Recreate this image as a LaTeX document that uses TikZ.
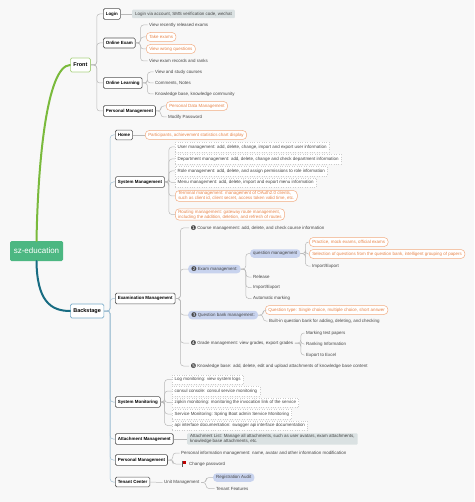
\documentclass[tikz,border=0pt]{standalone}
\usepackage{fontspec}
\setmainfont{Liberation Sans}
\newfontfamily\dingfont{DejaVu Sans}
\usepackage{xcolor}
\usetikzlibrary{positioning,calc}

\definecolor{bgcol}{RGB}{248,248,248}
\definecolor{rootgreen}{RGB}{76,183,130}
\definecolor{frontgreen}{RGB}{122,186,60}
\definecolor{frontedge}{RGB}{170,210,130}
\definecolor{backteal}{RGB}{24,108,130}
\definecolor{backedge}{RGB}{120,170,200}
\definecolor{spineblue}{RGB}{160,192,212}
\definecolor{boxline}{RGB}{85,85,85}
\definecolor{leaftext}{RGB}{70,70,70}
\definecolor{hottext}{RGB}{232,132,72}
\definecolor{hotedge}{RGB}{242,172,130}
\definecolor{tagfill}{RGB}{218,225,226}
\definecolor{pickfill}{RGB}{200,211,238}
\definecolor{linkgray}{RGB}{185,185,185}

\newcommand\bulnum[1]{\raisebox{-0.7pt}{\dingfont\fontsize{6.5}{5}\selectfont #1}}

\begin{document}
\begin{tikzpicture}[x=1pt, y=-1pt,
        root/.style={rectangle, fill=rootgreen, text=white, font=\fontsize{8}{9}\selectfont, minimum width=53pt, minimum height=20pt, rounded corners=1.5pt},
        main/.style={rectangle, draw, fill=white, line width=0.7pt, font=\bfseries\fontsize{5.5}{6}\selectfont, inner xsep=3pt, minimum height=14pt, rounded corners=1.5pt, anchor=west},
        topic/.style={rectangle, draw=boxline, fill=white, line width=0.6pt, font=\bfseries\fontsize{4.45}{5}\selectfont, inner xsep=2.5pt, minimum height=9.5pt, rounded corners=1.5pt, anchor=west},
        leaf/.style={font=\fontsize{4.45}{5.2}\selectfont, text=leaftext, inner xsep=1.5pt, inner ysep=1pt, anchor=west},
        hot/.style={leaf, draw=hotedge, fill=white, text=hottext, line width=0.5pt, inner xsep=3pt, minimum height=9pt, rounded corners=4pt, align=left},
        note/.style={leaf, draw=gray!40, dotted, fill=white, inner xsep=2.5pt, minimum height=9.5pt},
        tag/.style={leaf, fill=tagfill, inner xsep=3pt, minimum height=8.5pt, rounded corners=1pt, align=left},
        pick/.style={leaf, fill=pickfill, inner xsep=3pt, minimum height=8.5pt, rounded corners=3.5pt},
        trunk/.style={draw, line width=2pt, line cap=round},
        branch/.style={draw, linkgray, line width=0.5pt, rounded corners=3pt}]
    \fill [bgcol] (0,0) rectangle (474,502);
    \useasboundingbox (0,0) rectangle (474,502);

    % centre
    \node [root] (root) at (36.5,251) {sz-education};
    \node [main, draw=frontedge] (front) at (70,65) {Front};
    \node [main, draw=backedge] (back) at (70,311) {Backstage};
    \path [trunk, frontgreen] (root.north) .. controls (38,160) and (47,66) .. (front.west);
    \path [trunk, backteal] (root.south) .. controls (37,300) and (50,311) .. (back.west);

    % front
    \node [topic] (login) at (103,14) {Login};
    \node [topic] (oexam) at (103,43) {Online Exam};
    \node [topic] (olearn) at (103,83) {Online Learning};
    \node [topic] (fpm) at (103,111) {Personal Management};
    \foreach \c in {login,oexam,olearn,fpm}
        \path [branch] (front.east) -- ++(6pt,0) |- (\c.west);

    \node [tag] (login1) at (132,14) {Login via account, SMS verification code, wechat};
    \path [branch] (login.east) -- (login1.west);

    \node [leaf] (oe1) at (147.5,25) {View recently released exams};
    \node [hot] (oe2) at (146,37) {Take exams};
    \node [hot] (oe3) at (146,49) {View wrong questions};
    \node [leaf] (oe4) at (147.5,61) {View exam records and ranks};
    \foreach \c in {oe1,oe2,oe3,oe4}
        \path [branch] (oexam.east) -- ++(5pt,0) |- (\c.west);

    \node [leaf] (ol1) at (153.5,72) {View and study courses};
    \node [leaf] (ol2) at (153.5,83) {Comments, Notes};
    \node [leaf] (ol3) at (153.5,94) {Knowledge base, knowledge community};
    \foreach \c in {ol1,ol2,ol3}
        \path [branch] (olearn.east) -- ++(5pt,0) |- (\c.west);

    \node [hot] (fpm1) at (166,106) {Personal Data Management};
    \node [leaf] (fpm2) at (166.5,117) {Modify Password};
    \foreach \c in {fpm1,fpm2}
        \path [branch] (fpm.east) -- ++(5pt,0) |- (\c.west);

    % backstage
    \node [topic] (home) at (115,135) {Home};
    \node [topic] (sysm) at (115,182) {System Management};
    \node [topic] (exm) at (115,298.5) {Examination Management};
    \node [topic] (smon) at (115,402) {System Monitoring};
    \node [topic] (att) at (115,439) {Attachment Management};
    \node [topic] (bpm) at (115,460) {Personal Management};
    \node [topic] (tc) at (115,482) {Tenant Center};
    \foreach \c in {home,sysm,exm,smon,att,bpm,tc}
        \path [branch, spineblue] (back.east) -- ++(6pt,0) |- (\c.west);

    \node [hot] (home1) at (145,135) {Participants, achievement statistics chart display};
    \path [branch] (home.east) -- (home1.west);

    \node [note] (sm1) at (175,147) {User management: add, delete, change, import and export user information};
    \node [note] (sm2) at (175,159) {Department management: add, delete, change and check department information};
    \node [note] (sm3) at (175,171) {Role management: add, delete, and assign permissions to role information};
    \node [note] (sm4) at (175,182.5) {Menu management: add, delete, import and export menu information};
    \node [hot] (sm5) at (175,196) {Terminal management: management of OAuth2.0 clients,\\such as client id, client secret, access token valid time, etc.};
    \node [hot] (sm6) at (175,214.5) {Routing management: gateway route management,\\including the addition, deletion, and refresh of routes};
    \foreach \c in {sm1,sm2,sm3,sm4,sm5,sm6}
        \path [branch] (sysm.east) -- ++(4pt,0) |- (\c.west);

    \node [leaf] (ex1) at (189,228) {\bulnum{❶}\,Course management: add, delete, and check course information};
    \node [pick] (ex2) at (188,269) {\bulnum{❷}\,Exam management:};
    \node [pick] (ex3) at (188,315) {\bulnum{❸}\,Question bank management:};
    \node [leaf] (ex4) at (189,343) {\bulnum{❹}\,Grade management: view grades, export grades};
    \node [leaf] (ex5) at (189,366) {\bulnum{❺}\,Knowledge base: add, delete, edit and upload attachments of knowledge base content};
    \foreach \c in {ex1,ex2,ex3,ex4,ex5}
        \path [branch] (exm.east) -- ++(5pt,0) |- (\c.west);

    \node [pick] (exq) at (250,253.5) {question management};
    \node [leaf] (ex2a) at (251.5,277) {Release};
    \node [leaf] (ex2b) at (251.5,287.5) {Import/Export};
    \node [leaf] (ex2c) at (251.5,298.5) {Automatic marking};
    \foreach \c in {exq,ex2a,ex2b,ex2c}
        \path [branch] (ex2.east) -- ++(5pt,0) |- (\c.west);

    \node [hot] (exq1) at (309,242) {Practice, mock exams, official exams};
    \node [hot] (exq2) at (309,254) {Selection of questions from the question bank, intelligent grouping of papers};
    \node [leaf] (exq3) at (310.5,266) {Import/Export};
    \foreach \c in {exq1,exq2,exq3}
        \path [branch] (exq.east) -- ++(5pt,0) |- (\c.west);

    \node [hot] (ex3a) at (265,310) {Question type: Single choice, multiple choice, short answer};
    \node [leaf] (ex3b) at (267.5,321) {Built-in question bank for adding, deleting, and checking};
    \foreach \c in {ex3a,ex3b}
        \path [branch] (ex3.east) -- ++(5pt,0) |- (\c.west);

    \node [leaf] (ex4a) at (304.5,333) {Marking test papers};
    \node [leaf] (ex4b) at (304.5,344) {Ranking Information};
    \node [leaf] (ex4c) at (304.5,355) {Export to Excel};
    \foreach \c in {ex4a,ex4b,ex4c}
        \path [branch] (ex4.east) -- ++(6pt,0) |- (\c.west);

    \node [note] (mo1) at (172,379.5) {Log monitoring: view system logs};
    \node [note] (mo2) at (172,391) {consul console: consul service monitoring};
    \node [note] (mo3) at (172,402.5) {zipkin monitoring: monitoring the invocation link of the service};
    \node [note] (mo4) at (172,414) {Service Monitoring: Spring Boot admin Service Monitoring};
    \node [note] (mo5) at (172,425.5) {api interface documentation: swagger api interface documentation};
    \foreach \c in {mo1,mo2,mo3,mo4,mo5}
        \path [branch] (smon.east) -- ++(4pt,0) |- (\c.west);

    \node [tag] (att1) at (187,439) {Attachment List: Manage all attachments, such as user avatars, exam attachments,\\knowledge base attachments, etc.};
    \path [branch] (att.east) -- (att1.west);

    \node [leaf] (bpm1) at (179.5,453) {Personal information management: name, avatar and other information modification};
    \node [leaf] (bpm2) at (187.5,464) {Change password};
    \coordinate (flag) at (181.5,464);
    \fill [red!75!black] (182,461) rectangle (186,464);
    \draw [gray!70!black, line width=0.4pt] (182,460.5) -- (182,467);
    \path [branch] (bpm.east) -- ++(5pt,0) |- (bpm1.west);
    \path [branch] (bpm.east) -- ++(5pt,0) |- (flag);

    \node [leaf] (unit) at (162.5,482.5) {Unit Management};
    \path [branch] (tc.east) -- (unit.west);
    \node [pick] (reg) at (213,477.5) {Registration Audit};
    \node [leaf] (tfeat) at (214.5,488.5) {Tenant Features};
    \foreach \c in {reg,tfeat}
        \path [branch] (unit.east) -- ++(5pt,0) |- (\c.west);
\end{tikzpicture}
\end{document}
